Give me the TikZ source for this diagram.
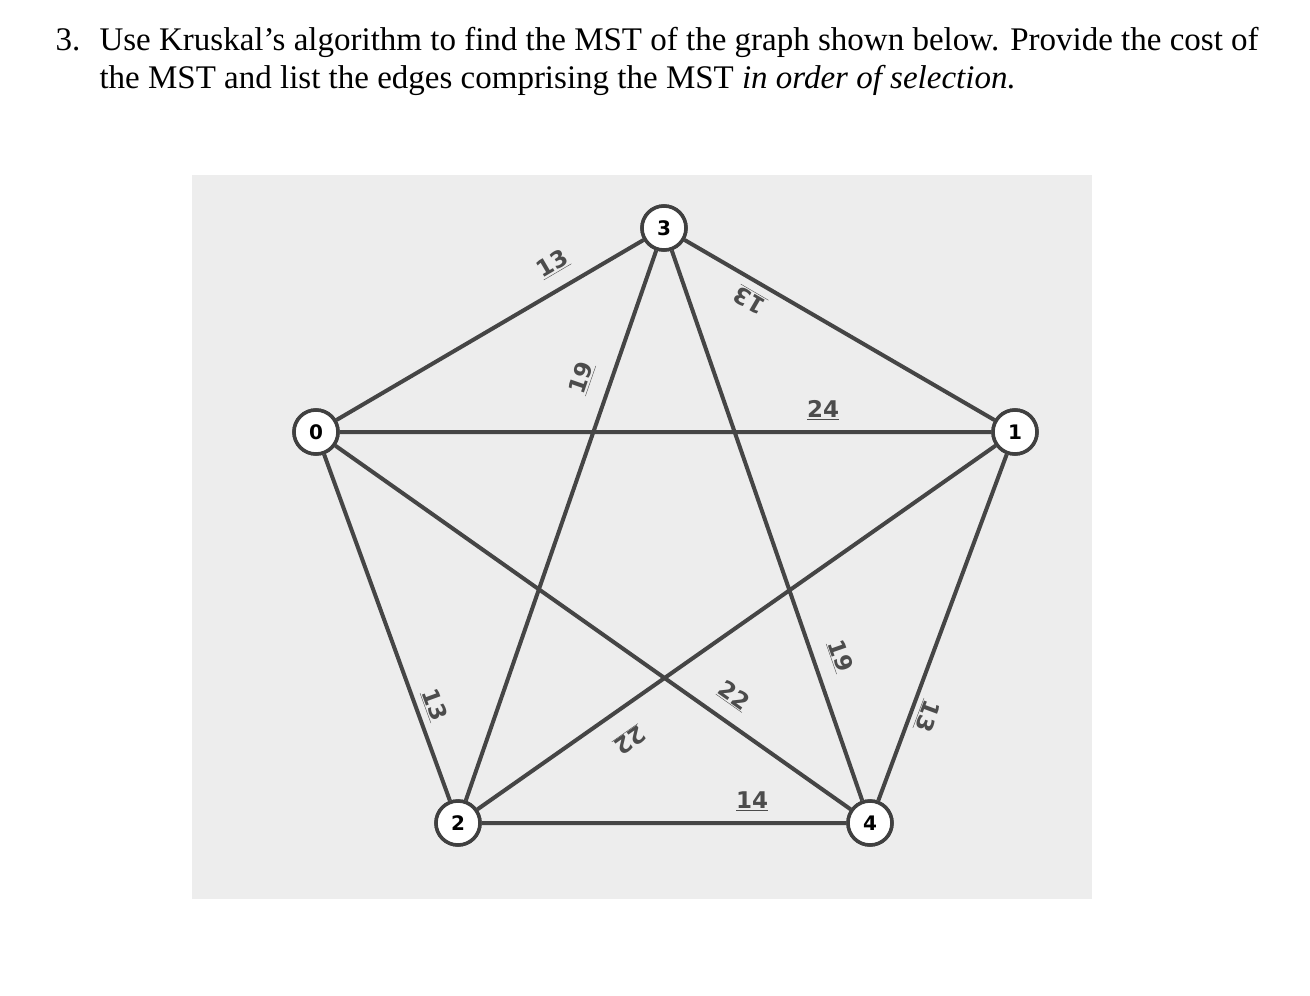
\documentclass[tikz,border=0pt]{standalone}
\usepackage{fontspec}
\setmainfont{Liberation Serif}
\newfontfamily\lblfont{DejaVu Sans}
\begin{document}
\begin{tikzpicture}[x=1pt,y=-1pt,
  vert/.style={circle,draw=black!75,line width=3.5pt,fill=white,minimum size=44pt,inner sep=0pt,font=\lblfont\bfseries\fontsize{20}{24}\selectfont},
  edge/.style={draw=black!73,line width=4pt},
  wt/.style={text=black!70,inner sep=1pt,font=\lblfont\bfseries\fontsize{23}{26}\selectfont}]
\useasboundingbox (0,0) rectangle (1310,996);
\fill[black!7] (192,175) rectangle (1092,899);
\node[anchor=base west,font=\fontsize{33}{38}\selectfont] (t0) at (52,50) {3.};
\node[anchor=base west,font=\fontsize{33}{38}\selectfont] (t1) at (96,50) {Use Kruskal’s algorithm to find the MST of the graph shown below. Provide the cost of};
\node[anchor=base west,font=\fontsize{33}{38}\selectfont] (t2) at (96,88) {the MST and list the edges comprising the MST \textit{in order of selection.}};
\node[vert] (n3) at (664,228) {};
\node[vert] (n0) at (316,432) {};
\node[vert] (n1) at (1015,432) {};
\node[vert] (n2) at (458,823) {};
\node[vert] (n4) at (870,823) {};
\path[edge] (n0)--(n3) (n3)--(n2) (n3)--(n1) (n0)--(n1) (n3)--(n4) (n0)--(n4) (n2)--(n1) (n2)--(n4) (n0)--(n2) (n1)--(n4);
\node[vert] at (n3) {3};
\node[vert] at (n0) {0};
\node[vert] at (n1) {1};
\node[vert] at (n2) {2};
\node[vert] at (n4) {4};
\node[wt,rotate=30.4] (w03) at (553,264) {\underline{13}};
\node[wt,rotate=70.9] (w32) at (582,378) {\underline{19}};
\node[wt,rotate=149.8] (w31) at (750,300) {\underline{13}};
\node[wt] (w01) at (823,410) {\underline{24}};
\node[wt,rotate=-70.9] (w34) at (840,656) {\underline{19}};
\node[wt,rotate=-35.2] (w04) at (734,696) {\underline{22}};
\node[wt,rotate=215] (w21) at (630,740) {\underline{22}};
\node[wt] (w24) at (752,801) {\underline{14}};
\node[wt,rotate=-70] (w02) at (434,705) {\underline{13}};
\node[wt,rotate=-110.4] (w14) at (927,716) {\underline{13}};
\end{tikzpicture}
\end{document}
